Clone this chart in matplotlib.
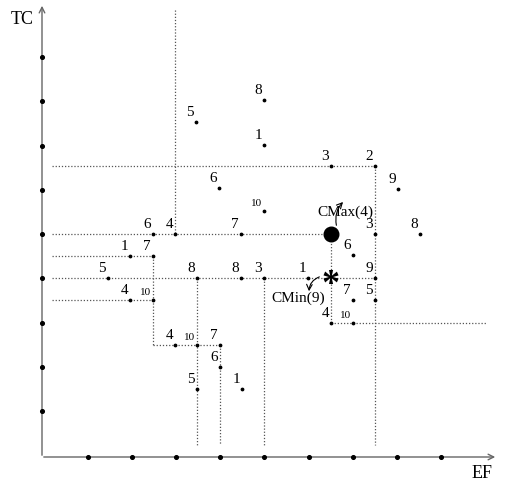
import matplotlib
matplotlib.use("Agg")
import matplotlib.pyplot as plt

plt.rcParams['font.family'] = ['Liberation Serif', 'DejaVu Serif']

# labelled points (pixel-space coordinates of the diagram)
labels = ["8","5","1","6","10","7","4","6","3","2","9","8","3","6","1","9","7","5","4","10",
          "1","7","5","8","8","3","4","10","4","10","7","6","5","1"]
px = [264,196,264,219,264,241,175,153,331,375,398,420,375,353,308,375,353,375,331,353,
      130,153,108,197,241,264,130,153,175,197,220,220,197,242]
py = [100,122,145,188,211,234,234,234,166,166,189,234,234,255,278,278,300,300,323,323,
      256,256,278,278,278,278,300,300,345,345,345,367,389,389]
small = {"10"}

# dotted guide segments (x0, y0, x1, y1)
segs = [(175,10,175,234),(52,166,375,166),(375,166,375,445),(52,234,331,234),
        (331,234,331,323),(331,323,487,323),(52,278,375,278),(52,256,153,256),
        (153,256,153,345),(153,345,220,345),(220,345,220,445),(52,300,153,300),
        (197,278,197,445),(264,278,264,445)]

xticks = [88,132,176,220,264,309,353,397,441]
yticks = [411,367,323,278,234,190,146,101,57]

fig = plt.figure(figsize=(5.08,4.88), dpi=100)
ax = fig.add_axes([0,0,1,1])
ax.set_xlim(0,508); ax.set_ylim(488,0); ax.axis('off')

for x0,y0,x1,y1 in segs:
    ax.plot([x0,x1],[y0,y1], ls=(0,(1,1.5)), color='#555', lw=0.9)

ax.annotate('', xy=(42,3), xytext=(42,458), arrowprops=dict(arrowstyle='->', color='#666', lw=1))
ax.annotate('', xy=(498,457), xytext=(41,457), arrowprops=dict(arrowstyle='->', color='#666', lw=1))
ax.scatter(xticks,[457]*len(xticks), s=7, color='black', zorder=3)
ax.scatter([42]*len(yticks), yticks, s=7, color='black', zorder=3)
ax.text(22,20,'TC', fontsize=13, ha='center', va='center')
ax.text(482,474,'EF', fontsize=13, ha='center', va='center')

ax.scatter(px, py, s=3, color='black', zorder=3)
for l,x,y in zip(labels,px,py):
    ax.text(x-2, y-3, l, fontsize=8 if l in small else 11, ha='right', va='bottom')

ax.scatter([331],[234], s=110, color='black', zorder=4)
ax.text(331,286,'*', fontsize=26, ha='center', va='center', fontweight='bold')
ax.text(317,212,'CMax(4)', fontsize=11, ha='left', va='center')
ax.text(271,298,'CMin(9)', fontsize=11, ha='left', va='center')
ax.annotate('', xy=(345,200), xytext=(337,228), arrowprops=dict(arrowstyle='->', lw=0.8, connectionstyle='arc3,rad=-0.3'))
ax.annotate('', xy=(309,294), xytext=(322,276), arrowprops=dict(arrowstyle='->', lw=0.8, connectionstyle='arc3,rad=0.4'))

fig.savefig('out.png', dpi=100)
